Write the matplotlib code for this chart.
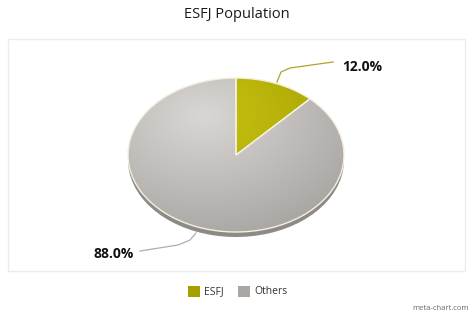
import numpy as np
import matplotlib
matplotlib.use("Agg")
import matplotlib.pyplot as plt
from matplotlib.patches import Rectangle
from matplotlib.colors import LinearSegmentedColormap

title = "ESFJ Population"
categories = ["ESFJ", "Others"]
values = [12.0, 88.0]
labels = ["12.0%", "88.0%"]
colors_light = ["#c6c312", "#d9d6d4"]
colors_dark = ["#a59f00", "#aaa6a3"]
side_colors = ["#7f7b00", "#8e8a87"]

W, H = 474, 316
fig = plt.figure(figsize=(W / 100, H / 100), dpi=100)
fig.patch.set_facecolor("white")

bg = fig.add_axes([0, 0, 1, 1])
bg.set_xlim(0, W)
bg.set_ylim(H, 0)
bg.axis("off")
bg.add_patch(Rectangle((8, 39), 457, 232, fill=False, edgecolor="#ececec", lw=1.0))

cx, cy, rx, ry = 236, 155, 108, 77
thick = 5
def px_box(l, t, w, h):
    return [l / W, 1 - (t + h) / H, w / W, h / H]

side_ax = fig.add_axes(px_box(cx - rx, cy - ry + thick, 2 * rx, 2 * ry))
side_ax.pie(values, colors=side_colors, startangle=90, counterclock=False,
            radius=1, wedgeprops=dict(linewidth=0))
side_ax.set_xlim(-1, 1); side_ax.set_ylim(-1, 1); side_ax.set_aspect("auto")
side_ax.axis("off")

ax = fig.add_axes(px_box(cx - rx, cy - ry, 2 * rx, 2 * ry))
wedges, _ = ax.pie(values, colors=colors_dark, startangle=90, counterclock=False,
                   radius=1, wedgeprops=dict(linewidth=1.0, edgecolor="#f3f1de"))

yy, xx = np.mgrid[-1:1:300j, -1:1:300j]
d = np.sqrt((xx + 0.3) ** 2 + (yy - 0.5) ** 2)
d = np.clip(d / 1.6, 0, 1)
for w, cl, cd in zip(wedges, colors_light, colors_dark):
    cmap = LinearSegmentedColormap.from_list("g", [cl, cd])
    im = ax.imshow(d, extent=(-1, 1, -1, 1), origin="lower", cmap=cmap,
                   aspect="auto", zorder=w.get_zorder() - 0.1, vmin=0, vmax=1)
    im.set_clip_path(w)
    w.set_facecolor("none")
ax.set_xlim(-1, 1); ax.set_ylim(-1, 1); ax.set_aspect("auto")
ax.axis("off")

bg.plot([277, 281, 290, 333], [82, 72, 68, 62], color="#a9a52a", lw=0.9, zorder=5)
bg.plot([196, 190, 178, 140], [233, 240, 245, 251], color="#b0aeac", lw=0.9, zorder=5)
bg.text(342, 67, labels[0], fontsize=10, fontweight="bold", color="#111111",
        ha="left", va="center", family="Open Sans")
bg.text(134, 254, labels[1], fontsize=10, fontweight="bold", color="#111111",
        ha="right", va="center", family="Open Sans")

bg.text(237, 15, title, fontsize=10.5, color="#1a1a1a", ha="center", va="center",
        family="Open Sans")

leg_x = [188, 238]
for x0, cat, c in zip(leg_x, categories, colors_dark):
    bg.add_patch(Rectangle((x0, 286), 12, 11, facecolor=c, edgecolor="none"))
    bg.text(x0 + 16, 292, cat, fontsize=7.5, color="#333333", ha="left", va="center",
            family="Open Sans")

bg.text(469, 308, "meta-chart.com", fontsize=5.5, color="#666666", ha="right",
        va="center", family="Open Sans")

fig.savefig("out.png", dpi=100, facecolor="white")
